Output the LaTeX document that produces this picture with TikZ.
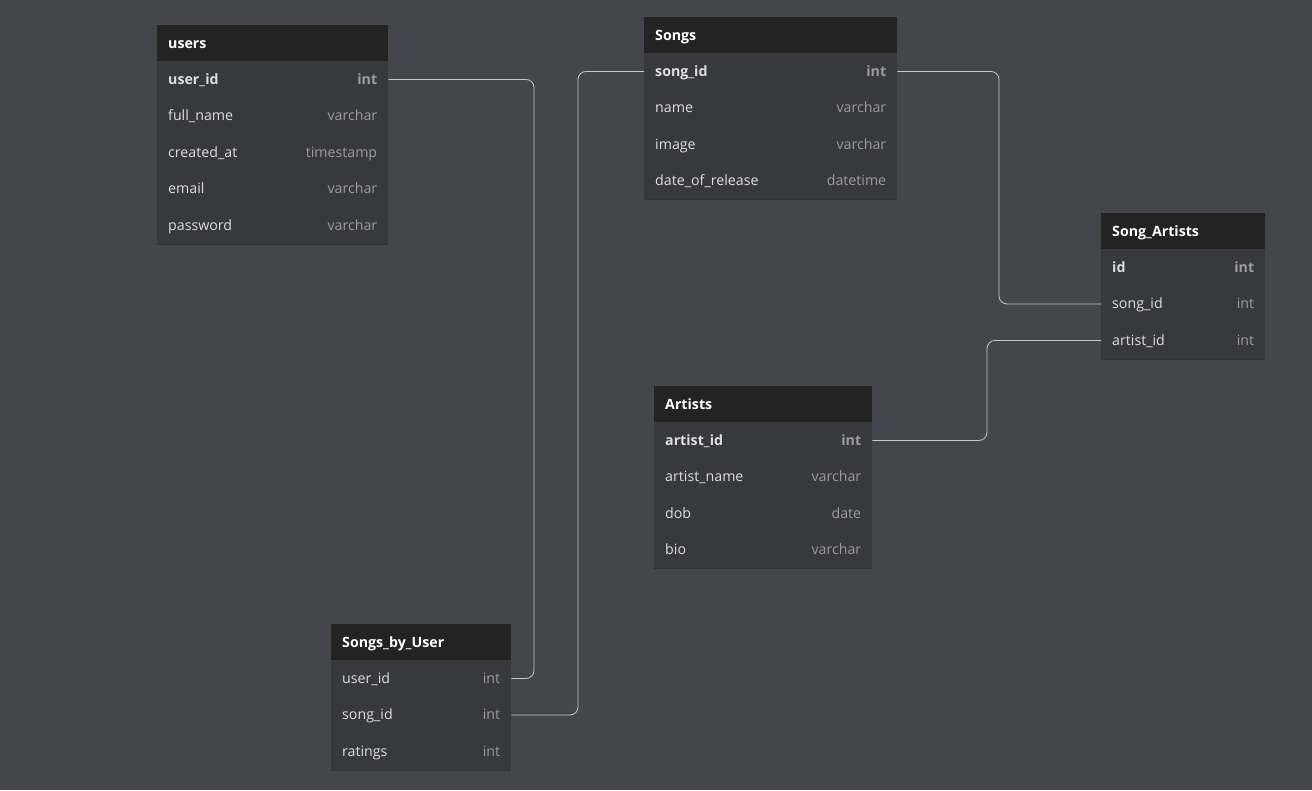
\documentclass[tikz,border=0pt]{standalone}
\usepackage{fontspec}
\setmainfont{Open Sans}
\definecolor{bg}{HTML}{45454D}
\definecolor{hd}{HTML}{232323}
\definecolor{rw}{HTML}{38383F}
\definecolor{sep}{HTML}{323238}
\definecolor{tx}{HTML}{DEDEDE}
\definecolor{ty}{HTML}{9C9C9C}
\definecolor{ln}{HTML}{C8C8C8}
\tikzset{
 hdbox/.style={fill=hd,draw=none,anchor=north west,inner sep=0pt},
 rwbox/.style={fill=rw,draw=none,anchor=north west,inner sep=0pt},
 fld/.style={anchor=base west,text=tx,inner sep=0pt},
 typ/.style={anchor=base east,text=ty,inner sep=0pt},
 conn/.style={draw=ln,line width=0.8pt,rounded corners=8pt}
}
\newcommand\fs{\fontsize{14.2}{16}\selectfont}
% \hdr{name}{x}{y}{w}{title}
\newcommand\hdr[5]{\node[hdbox,minimum width=#4pt,minimum height=36pt] (#1) at (#2pt,-#3pt) {};
 \node[fld,font=\fs\bfseries,text=white] (#1t) at ([xshift=11pt,yshift=-5pt]#1.west) {#5};}
% \rowx{name}{x}{y}{w}{field}{type}{fontextra}
\newcommand\rowx[7]{\node[rwbox,minimum width=#4pt,minimum height=36.5pt] (#1) at (#2pt,-#3pt) {};
 \draw[sep,line width=0.8pt] (#1.south west) -- (#1.south east);
 \node[fld,font=\fs#7] (#1f) at ([xshift=11pt,yshift=-5pt]#1.west) {#5};
 \node[typ,font=\fs#7] (#1y) at ([xshift=-11pt,yshift=-5pt]#1.east) {#6};}
\begin{document}
\begin{tikzpicture}[x=1pt,y=1pt]
\fill[bg] (0,0) rectangle (1312,-790);
\useasboundingbox (0,0) rectangle (1312,-790);
% users
\hdr{users}{157}{25}{231}{users}
\rowx{uid}{157}{61}{231}{user\_id}{int}{\bfseries}
\rowx{ufn}{157}{97.5}{231}{full\_name}{varchar}{}
\rowx{uca}{157}{134}{231}{created\_at}{timestamp}{}
\rowx{uem}{157}{170.5}{231}{email}{varchar}{}
\rowx{upw}{157}{207}{231}{password}{varchar}{}
% Songs
\hdr{songs}{644}{17}{253}{Songs}
\rowx{sid}{644}{53}{253}{song\_id}{int}{\bfseries}
\rowx{snm}{644}{89.5}{253}{name}{varchar}{}
\rowx{sim}{644}{126}{253}{image}{varchar}{}
\rowx{sdr}{644}{162.5}{253}{date\_of\_release}{datetime}{}
% Song_Artists
\hdr{sa}{1101}{213}{164}{Song\_Artists}
\rowx{said}{1101}{249}{164}{id}{int}{\bfseries}
\rowx{sasid}{1101}{285.5}{164}{song\_id}{int}{}
\rowx{saaid}{1101}{322}{164}{artist\_id}{int}{}
% Artists
\hdr{ar}{654}{386}{218}{Artists}
\rowx{aid}{654}{422}{218}{artist\_id}{int}{\bfseries}
\rowx{anm}{654}{458.5}{218}{artist\_name}{varchar}{}
\rowx{adb}{654}{495}{218}{dob}{date}{}
\rowx{abi}{654}{531.5}{218}{bio}{varchar}{}
% Songs_by_User
\hdr{sbu}{331}{624}{180}{Songs\_by\_User}
\rowx{buid}{331}{660}{180}{user\_id}{int}{}
\rowx{bsid}{331}{696.5}{180}{song\_id}{int}{}
\rowx{brt}{331}{733}{180}{ratings}{int}{}
% connectors
\draw[conn] (uid.east) -| (534,0 |- buid.east) -- (buid.east);
\draw[conn] (sid.west) -| (578,0 |- bsid.east) -- (bsid.east);
\draw[conn] (sid.east) -| (999,0 |- sasid.west) -- (sasid.west);
\draw[conn] (aid.east) -| (987,0 |- saaid.west) -- (saaid.west);
\end{tikzpicture}
\end{document}
